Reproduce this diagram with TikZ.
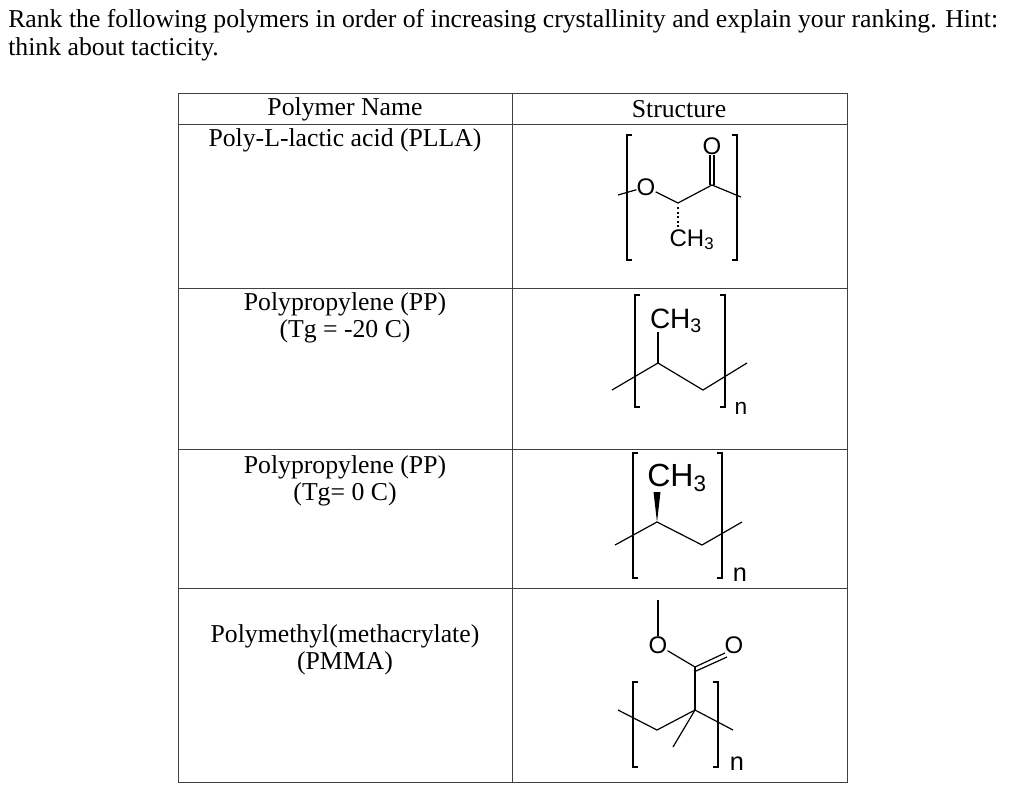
\documentclass[tikz,border=0pt]{standalone}
\usepackage{fontspec}
\setmainfont{Liberation Serif}
\newfontfamily\chemf{Liberation Sans}
\begin{document}
\begin{tikzpicture}[x=0.75pt,y=-0.75pt,
  txt/.style={inner sep=0pt,font=\fontsize{19.3}{22}\selectfont},
  lab/.style={inner sep=0pt,font=\chemf\fontsize{21}{23}\selectfont},
  bond/.style={line width=0.9pt},
  grid/.style={line width=0.7pt,draw=black!75}]
\useasboundingbox (0,0) rectangle (1024,804);
% title
\node[txt,anchor=base west] (t1) at (8,27) {Rank the following polymers in order of increasing crystallinity and explain your ranking. Hint:};
\node[txt,anchor=base west] (t2) at (8,55) {think about tacticity.};
% table
\draw[grid] (178,93) rectangle (847,782);
\draw[grid] (512,93) -- (512,782);
\foreach \y in {124,288,449,588} \draw[grid] (178,\y) -- (847,\y);
\node[txt] (h1) at (345,109) {Polymer Name};
\node[txt] (h2) at (679,109) {Structure};
\node[txt] (r1) at (345,140) {Poly-L-lactic acid (PLLA)};
\node[txt] (r2a) at (345,304) {Polypropylene (PP)};
\node[txt] (r2b) at (345,331) {(Tg = -20 C)};
\node[txt] (r3a) at (345,467) {Polypropylene (PP)};
\node[txt] (r3b) at (345,494) {(Tg= 0 C)};
\node[txt] (r4a) at (345,636) {Polymethyl(methacrylate)};
\node[txt] (r4b) at (345,663) {(PMMA)};
% PLLA
\draw[bond] (632,135) -- (627,135) -- (627,260) -- (632,260);
\draw[bond] (732,135) -- (737,135) -- (737,260) -- (732,260);
\node[lab,font=\chemf\fontsize{18}{20}\selectfont] (o1) at (646,187) {O};
\node[lab,font=\chemf\fontsize{18}{20}\selectfont] (o2) at (712,146) {O};
\node[lab,font=\chemf\fontsize{18}{20}\selectfont,anchor=north] (m1) at (692,229) {CH\textsubscript{3}};
\draw[bond] (618,195) -- (o1);
\coordinate (c1) at (678,203);
\coordinate (c2) at (712,185);
\draw[bond] (o1) -- (c1) -- (c2) -- (741,197);
\draw[bond] ([xshift=-1.5pt]c2) -- ([xshift=-1.5pt]o2.south);
\draw[bond] ([xshift=1.5pt]c2) -- ([xshift=1.5pt]o2.south);
\foreach \k in {0,...,4} \draw[line width=0.8pt] (678,{207+4.5*\k}) -- (678,{209+4.5*\k});
% PP atactic
\draw[bond] (640,295) -- (635,295) -- (635,407) -- (640,407);
\draw[bond] (720,295) -- (725,295) -- (725,407) -- (720,407);
\node[lab] (m2) at (676,321) {CH\textsubscript{3}};
\coordinate (p1) at (658,363);
\draw[bond] (612,390) -- (p1) -- (703,390) -- (747,363);
\draw[bond] (p1) -- (658,332);
\node[lab,font=\chemf\fontsize{17}{19}\selectfont] (n1) at (741,408) {n};
% PP isotactic
\draw[bond] (638,453) -- (633,453) -- (633,578) -- (638,578);
\draw[bond] (717,453) -- (722,453) -- (722,578) -- (717,578);
\node[lab,font=\chemf\fontsize{24}{26}\selectfont] (m3) at (677,478) {CH\textsubscript{3}};
\coordinate (q1) at (657,522);
\draw[bond] (615,545) -- (q1) -- (702,545) -- (742,522);
\fill (q1) -- (653.5,492) -- (660.5,492) -- cycle;
\node[lab,font=\chemf\fontsize{19}{21}\selectfont] (n2) at (740,575) {n};
% PMMA
\node[lab,font=\chemf\fontsize{18}{20}\selectfont] (o3) at (658,645) {O};
\node[lab,font=\chemf\fontsize{18}{20}\selectfont] (o4) at (734,645) {O};
\coordinate (e1) at (658,600);
\coordinate (e2) at (695,667);
\coordinate (e3) at (695,710);
\coordinate (e4) at (725,653);
\draw[bond] (e1) -- (o3);
\draw[bond] (o3) -- (e2);
\draw[bond] (e2) -- (e4);
\draw[bond] ([shift={(0,4.5)}]e2) -- ([shift={(2,4)}]e4);
\draw[bond] (e2) -- (e3);
\draw[bond] (618,710) -- (657,730) -- (e3) -- (733,730);
\draw[bond] (e3) -- (673,747);
\draw[bond] (638,682) -- (633,682) -- (633,767) -- (638,767);
\draw[bond] (713,682) -- (718,682) -- (718,767) -- (713,767);
\node[lab,font=\chemf\fontsize{19}{21}\selectfont] (n3) at (737,764) {n};
\end{tikzpicture}
\end{document}
